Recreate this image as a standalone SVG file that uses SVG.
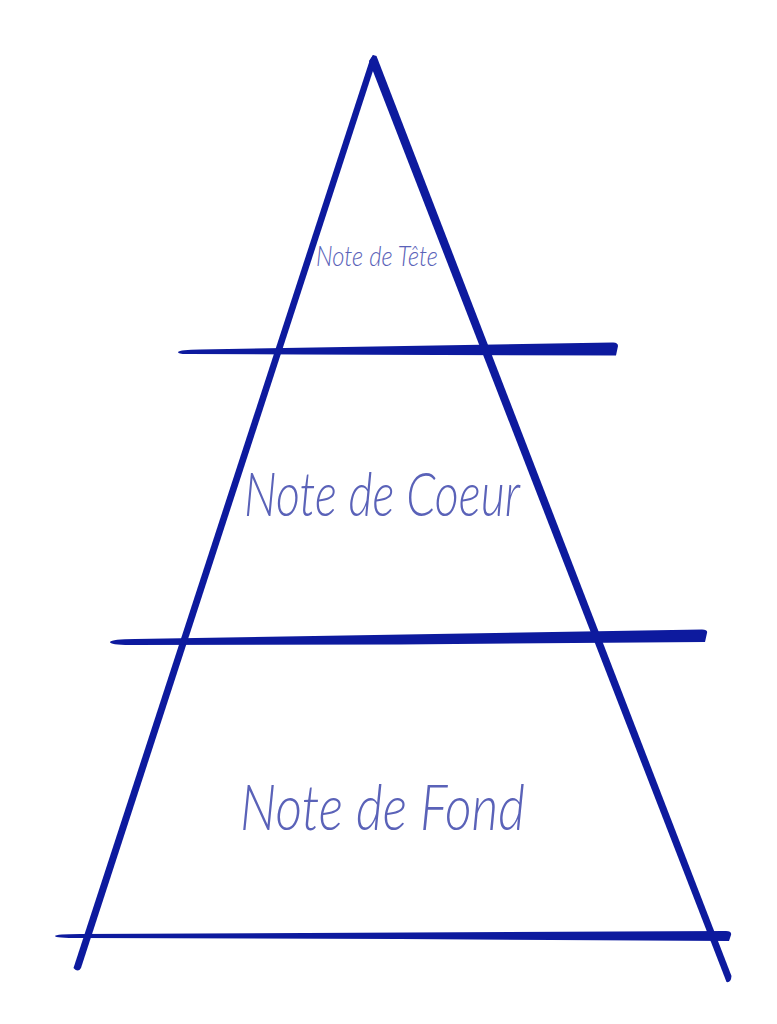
<svg xmlns="http://www.w3.org/2000/svg" width="777" height="1024" viewBox="0 0 777 1024">
<style>
.ink{fill:#0d1a9e;stroke:none}
.lbl{fill:#5a62b8;font-family:"Lato","Open Sans","DejaVu Sans",sans-serif;font-style:italic;font-weight:300}
</style>
<rect width="777" height="1024" fill="#ffffff"/>
<g id="connectors">
<path class="ink" d="M373,55 L376.5,60 L81,968 Q78,973 73.5,968 L369.5,61 Z"/>
<path class="ink" d="M373,55 L376.5,56 L731.5,976 Q731,983 726.5,982 L369,61 Z"/>
</g>
<g id="tier-top">
<path class="ink" d="M178,352 Q180,349.5 200,349.5 L612,342.5 Q618,342 618,346 L616,355.5 L300,354.5 L190,354 Q178,354.5 178,352 Z"/>
<text class="lbl" x="316" y="266" font-size="28" textLength="122" lengthAdjust="spacingAndGlyphs">Note de Tête</text>
</g>
<g id="tier-middle">
<path class="ink" d="M110,642 Q112,639 135,639 L702,629.5 Q708,629.5 707,633 L705,642 L400,644.5 L130,645 Q110,645 110,642 Z"/>
<text class="lbl" x="244" y="516" font-size="62" textLength="276" lengthAdjust="spacingAndGlyphs">Note de Coeur</text>
</g>
<g id="tier-bottom">
<path class="ink" d="M55,936 Q56,934 80,934 L726,931 Q732,931 731,935 L729,941 L400,939 L80,938 Q55,938 55,936 Z"/>
<text class="lbl" x="240" y="830" font-size="64" textLength="285" lengthAdjust="spacingAndGlyphs">Note de Fond</text>
</g>
</svg>
